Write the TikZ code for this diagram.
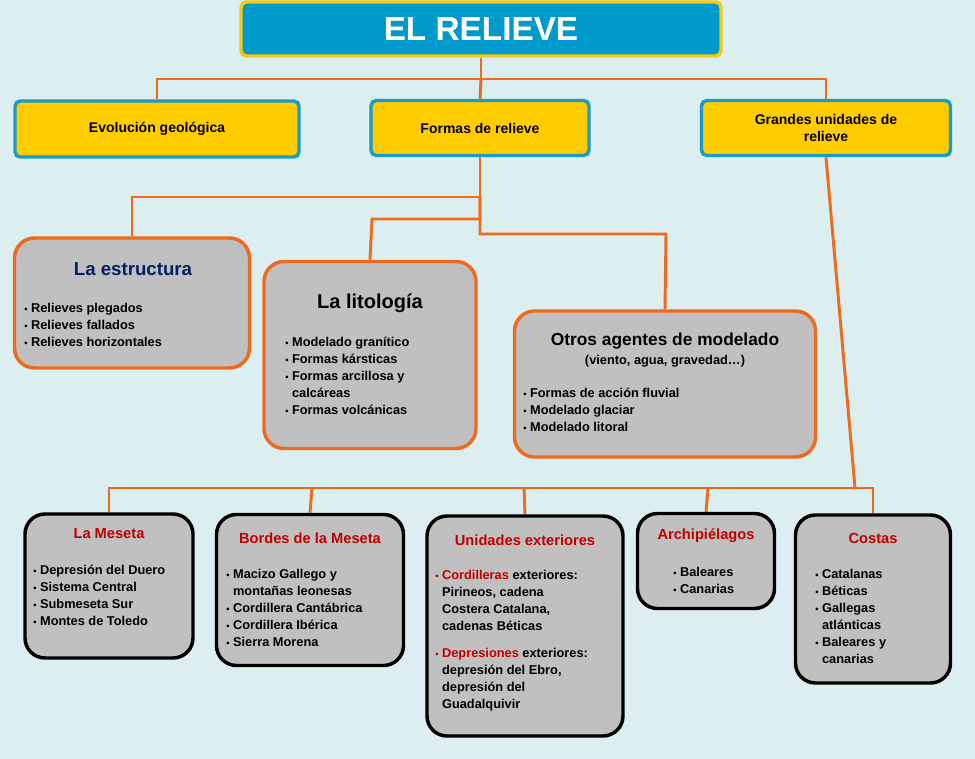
\documentclass[tikz,border=0pt]{standalone}
\usepackage{fontspec}
\setmainfont{Liberation Sans}
\usepackage{tikz}
\usetikzlibrary{backgrounds}

\definecolor{bgcyan}{HTML}{DCEEF0}
\definecolor{titleblue}{HTML}{0099CC}
\definecolor{titlegold}{HTML}{F2C811}
\definecolor{boxgold}{HTML}{FFCC00}
\definecolor{boxcyan}{HTML}{1A9CC8}
\definecolor{linkorange}{HTML}{EE6A1E}
\definecolor{boxgray}{HTML}{C0C0C0}
\definecolor{headred}{HTML}{C00000}
\definecolor{headnavy}{HTML}{002060}

\newcommand{\bul}{{\scriptsize\textbullet}\ }
\newcommand{\nobul}{\phantom{\bul}}

\begin{document}
\begin{tikzpicture}[
    x=0.75pt, y=-0.75pt,
    every node/.style={font=\bfseries, inner sep=0pt},
    link/.style={draw=linkorange, line width=2.2pt}, % orange connectors
    topbox/.style={draw=boxcyan, fill=boxgold, line width=2.6pt, rounded corners=4pt, font=\bfseries\fontsize{10.5}{13}\selectfont, align=center},
    midbox/.style={draw=linkorange, fill=boxgray, line width=2.6pt, rounded corners=15pt},
    lowbox/.style={draw=black, fill=boxgray, line width=2.6pt, rounded corners=15pt},
    bodytext/.style={anchor=north west, align=left, font=\bfseries\fontsize{9.6}{12.8}\selectfont},
    lowhead/.style={text=headred, font=\bfseries\fontsize{11}{13}\selectfont}
]
% title and first level
\node (relieve) [draw=titlegold, fill=titleblue, line width=2.6pt, rounded corners=4pt,
    minimum width=480*0.75pt, minimum height=54*0.75pt, text=white,
    font=\bfseries\fontsize{25}{28}\selectfont] at (481,29) {EL RELIEVE};
\node (evol) [topbox, minimum width=284*0.75pt, minimum height=56*0.75pt] at (157,129) {Evolución geológica};
\node (formas) [topbox, minimum width=218*0.75pt, minimum height=55*0.75pt] at (480,128) {Formas de relieve};
\node (grandes) [topbox, minimum width=249*0.75pt, minimum height=55*0.75pt] at (826,128) {Grandes unidades de\\relieve};

% second level boxes
\node (estructura) [midbox, minimum width=235*0.75pt, minimum height=130*0.75pt] at (132,303) {};
\node (litologia) [midbox, minimum width=212*0.75pt, minimum height=187*0.75pt] at (370,355) {};
\node (otros) [midbox, minimum width=301*0.75pt, minimum height=146*0.75pt] at (665,384) {};

% third level boxes
\node (meseta) [lowbox, minimum width=168*0.75pt, minimum height=144*0.75pt] at (109,586) {};
\node (bordes) [lowbox, minimum width=187*0.75pt, minimum height=151*0.75pt] at (310,590) {};
\node (exteriores) [lowbox, minimum width=196*0.75pt, minimum height=220*0.75pt] at (525,626) {};
\node (archip) [lowbox, minimum width=137*0.75pt, minimum height=95*0.75pt] at (706,561) {};
\node (costas) [lowbox, minimum width=155*0.75pt, minimum height=168*0.75pt] at (873,599) {};

% connectors
\coordinate (topbar) at (481,79);
\coordinate (formbar) at (480,197);
\coordinate (lowbar) at (855,488);
\begin{pgfonlayer}{background}
\fill[bgcyan] (0,0) rectangle (975,759);
\draw[link] (relieve.south) -- (topbar);
\draw[link] (evol.north) |- (topbar) -| (grandes.north);
\draw[link] (topbar) -- (formas.north);
\draw[link] (formas.south) -- (formbar) -| (estructura.north);
\draw[link] (formbar) |- (372,219) -- (litologia.north);
\draw[link] (formbar) |- (666,234) -- (otros.north);
\draw[link] (grandes.south) -- (lowbar);
\draw[link] (meseta.north) |- (lowbar) -| (costas.north);
\draw[link] (bordes.north) -- (312,488);
\draw[link] (exteriores.north) -- (524,488);
\draw[link] (archip.north) -- (708,488);
\end{pgfonlayer}

% texts of second level
\node [text=headnavy, font=\bfseries\fontsize{14}{16}\selectfont] at (133,269) {La estructura};
\node [bodytext] at (24,303) {\bul Relieves plegados\\ \bul Relieves fallados\\ \bul Relieves horizontales};
\node [font=\bfseries\fontsize{15}{17}\selectfont] at (370,303) {La litología};
\node [bodytext] at (285,337) {\bul Modelado granítico\\ \bul Formas kársticas\\ \bul Formas arcillosa y\\ \nobul calcáreas\\ \bul Formas volcánicas};
\node [font=\bfseries\fontsize{13}{15}\selectfont] at (665,341) {Otros agentes de modelado};
\node [font=\bfseries\fontsize{9.6}{12}\selectfont] at (665,361) {(viento, agua, gravedad…)};
\node [bodytext] at (523,388) {\bul Formas de acción fluvial\\ \bul Modelado glaciar\\ \bul Modelado litoral};

% texts of third level
\node [lowhead] at (109,534) {La Meseta};
\node [bodytext] at (33,565) {\bul Depresión del Duero\\ \bul Sistema Central\\ \bul Submeseta Sur\\ \bul Montes de Toledo};
\node [lowhead] at (310,538) {Bordes de la Meseta};
\node [bodytext] at (226,569) {\bul Macizo Gallego y\\ \nobul montañas leonesas\\ \bul Cordillera Cantábrica\\ \bul Cordillera Ibérica\\ \bul Sierra Morena};
\node [lowhead] at (525,540) {Unidades exteriores};
\node [bodytext] at (435,570) {\textcolor{headred}{\bul Cordilleras} exteriores:\\ \nobul Pirineos, cadena\\ \nobul Costera Catalana,\\ \nobul cadenas Béticas\\[7pt] \textcolor{headred}{\bul Depresiones} exteriores:\\ \nobul depresión del Ebro,\\ \nobul depresión del\\ \nobul Guadalquivir};
\node [lowhead] at (706,536) {Archipiélagos};
\node [bodytext] at (673,567) {\bul Baleares\\ \bul Canarias};
\node [lowhead] at (873,538) {Costas};
\node [bodytext] at (815,569) {\bul Catalanas\\ \bul Béticas\\ \bul Gallegas\\ \nobul atlánticas\\ \bul Baleares y\\ \nobul canarias};
\end{tikzpicture}
\end{document}
